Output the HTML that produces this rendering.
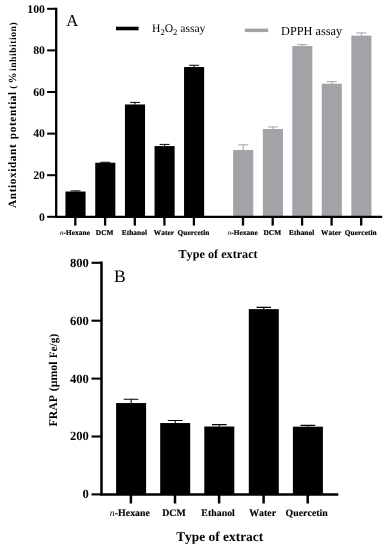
<!DOCTYPE html><html><head><meta charset="utf-8"><title>Antioxidant assays</title>
<style>html,body{margin:0;padding:0;background:#fff}svg{display:block}text{font-kerning:none;text-rendering:geometricPrecision;font-family:"Liberation Serif","DejaVu Serif",serif;fill:#000}.b{font-weight:bold}</style></head><body>
<svg width="391" height="550" viewBox="0 0 391 550">
<rect width="391" height="550" fill="#fff"/>
<rect x="65.45" y="191.53" width="20.1" height="25.27" fill="#000"/>
<path d="M75.5 191.53V190.9M70.5 190.9H80.5" stroke="#000" stroke-width="1" fill="none"/>
<rect x="95.25" y="162.72" width="20.1" height="54.08" fill="#000"/>
<path d="M105.3 162.72V162.26M100.3 162.26H110.3" stroke="#000" stroke-width="1" fill="none"/>
<rect x="124.95" y="104.48" width="20.1" height="112.32" fill="#000"/>
<path d="M135 104.48V102.4M130 102.4H140" stroke="#000" stroke-width="1" fill="none"/>
<rect x="154.55" y="146.08" width="20.1" height="70.72" fill="#000"/>
<path d="M164.6 146.08V144.42M159.6 144.42H169.6" stroke="#000" stroke-width="1" fill="none"/>
<rect x="184.05" y="67.04" width="20.1" height="149.76" fill="#000"/>
<path d="M194.1 67.04V65.27M189.1 65.27H199.1" stroke="#000" stroke-width="1" fill="none"/>
<rect x="233.15" y="150.03" width="20.1" height="66.77" fill="#a4a2a7"/>
<path d="M243.2 150.03V144.83M238.2 144.83H248.2" stroke="#a4a2a7" stroke-width="1" fill="none"/>
<rect x="262.85" y="129.02" width="20.1" height="87.78" fill="#a4a2a7"/>
<path d="M272.9 129.02V126.94M267.9 126.94H277.9" stroke="#a4a2a7" stroke-width="1" fill="none"/>
<rect x="292.25" y="46.03" width="20.1" height="170.77" fill="#a4a2a7"/>
<path d="M302.3 46.03V44.58M297.3 44.58H307.3" stroke="#a4a2a7" stroke-width="1" fill="none"/>
<rect x="321.75" y="83.68" width="20.1" height="133.12" fill="#a4a2a7"/>
<path d="M331.8 83.68V81.6M326.8 81.6H336.8" stroke="#a4a2a7" stroke-width="1" fill="none"/>
<rect x="351.35" y="35.63" width="20.1" height="181.17" fill="#a4a2a7"/>
<path d="M361.4 35.63V32.93M356.4 32.93H366.4" stroke="#a4a2a7" stroke-width="1" fill="none"/>
<path d="M56.2 7.65V217.95M55.05 216.8H382.2" stroke="#000" stroke-width="2.3" fill="none"/>
<path d="M47.1 216.8H56.2" stroke="#000" stroke-width="2"/>
<text class="b" x="45" y="220.5" font-size="11.8" text-anchor="end">0</text>
<path d="M47.1 175.2H56.2" stroke="#000" stroke-width="2"/>
<text class="b" x="45" y="178.9" font-size="11.8" text-anchor="end">20</text>
<path d="M47.1 133.6H56.2" stroke="#000" stroke-width="2"/>
<text class="b" x="45" y="137.3" font-size="11.8" text-anchor="end">40</text>
<path d="M47.1 92H56.2" stroke="#000" stroke-width="2"/>
<text class="b" x="45" y="95.7" font-size="11.8" text-anchor="end">60</text>
<path d="M47.1 50.4H56.2" stroke="#000" stroke-width="2"/>
<text class="b" x="45" y="54.1" font-size="11.8" text-anchor="end">80</text>
<path d="M47.1 8.8H56.2" stroke="#000" stroke-width="2"/>
<text class="b" x="45" y="12.5" font-size="11.8" text-anchor="end">100</text>
<path d="M75.3 216.8V225.6" stroke="#000" stroke-width="2.3"/>
<text class="b" x="74.9" y="235.2" font-size="7.3" letter-spacing="0.08" stroke="#000" stroke-width="0.2" text-anchor="middle"><tspan font-style="italic" font-weight="normal" stroke="none">n</tspan>-Hexane</text>
<path d="M105.1 216.8V225.6" stroke="#000" stroke-width="2.3"/>
<text class="b" x="104.7" y="235.2" font-size="7.3" letter-spacing="0.08" stroke="#000" stroke-width="0.2" text-anchor="middle">DCM</text>
<path d="M134.8 216.8V225.6" stroke="#000" stroke-width="2.3"/>
<text class="b" x="134.4" y="235.2" font-size="7.3" letter-spacing="0.08" stroke="#000" stroke-width="0.2" text-anchor="middle">Ethanol</text>
<path d="M164.4 216.8V225.6" stroke="#000" stroke-width="2.3"/>
<text class="b" x="164" y="235.2" font-size="7.3" letter-spacing="0.08" stroke="#000" stroke-width="0.2" text-anchor="middle">Water</text>
<path d="M193.9 216.8V225.6" stroke="#000" stroke-width="2.3"/>
<text class="b" x="193.5" y="235.2" font-size="7.3" letter-spacing="0.08" stroke="#000" stroke-width="0.2" text-anchor="middle">Quercetin</text>
<path d="M243 216.8V225.6" stroke="#000" stroke-width="2.3"/>
<text class="b" x="242.6" y="235.2" font-size="7.3" letter-spacing="0.08" stroke="#000" stroke-width="0.2" text-anchor="middle"><tspan font-style="italic" font-weight="normal" stroke="none">n</tspan>-Hexane</text>
<path d="M272.7 216.8V225.6" stroke="#000" stroke-width="2.3"/>
<text class="b" x="272.3" y="235.2" font-size="7.3" letter-spacing="0.08" stroke="#000" stroke-width="0.2" text-anchor="middle">DCM</text>
<path d="M302.1 216.8V225.6" stroke="#000" stroke-width="2.3"/>
<text class="b" x="301.7" y="235.2" font-size="7.3" letter-spacing="0.08" stroke="#000" stroke-width="0.2" text-anchor="middle">Ethanol</text>
<path d="M331.6 216.8V225.6" stroke="#000" stroke-width="2.3"/>
<text class="b" x="331.2" y="235.2" font-size="7.3" letter-spacing="0.08" stroke="#000" stroke-width="0.2" text-anchor="middle">Water</text>
<path d="M361.2 216.8V225.6" stroke="#000" stroke-width="2.3"/>
<text class="b" x="360.8" y="235.2" font-size="7.3" letter-spacing="0.08" stroke="#000" stroke-width="0.2" text-anchor="middle">Quercetin</text>
<text class="b" x="218.1" y="258.1" font-size="12.2" text-anchor="middle">Type of extract</text>
<text class="b" transform="translate(15.9 208) rotate(-90)" font-size="11.3" letter-spacing="0.6" word-spacing="1">Antioxidant potential</text>
<text class="b" transform="translate(15.9 88.7) rotate(-90)" font-size="9.6" letter-spacing="0.55" word-spacing="0.6">(<tspan dx="1.35" font-size="11">%</tspan><tspan dx="-2.55"> inhibition)</tspan></text>
<text x="66.3" y="26.2" font-size="16.6">A</text>
<rect x="116" y="26.7" width="22.6" height="3.6" fill="#000"/>
<text x="152" y="32.4" font-size="11.6">H<tspan font-size="8.6" dy="2.7">2</tspan><tspan dy="-2.7">O</tspan><tspan font-size="8.6" dy="2.7">2</tspan><tspan dy="-2.7"> assay</tspan></text>
<rect x="244.8" y="28.6" width="23.4" height="3.5" fill="#a4a2a7"/>
<text x="281" y="34.8" font-size="12.3">DPPH assay</text>
<rect x="116.1" y="403.06" width="30" height="91.34" fill="#000"/>
<path d="M131.1 403.06V399.3M123.8 399.3H138.4" stroke="#000" stroke-width="1.05" fill="none"/>
<rect x="160.2" y="423.04" width="30" height="71.36" fill="#000"/>
<path d="M175.2 423.04V420.43M167.9 420.43H182.5" stroke="#000" stroke-width="1.05" fill="none"/>
<rect x="204.3" y="426.51" width="30" height="67.89" fill="#000"/>
<path d="M219.3 426.51V424.63M212 424.63H226.6" stroke="#000" stroke-width="1.05" fill="none"/>
<rect x="248.8" y="309.12" width="30" height="185.28" fill="#000"/>
<path d="M263.8 309.12V307.38M256.5 307.38H271.1" stroke="#000" stroke-width="1.05" fill="none"/>
<rect x="292.9" y="426.66" width="30" height="67.74" fill="#000"/>
<path d="M307.9 426.66V425.35M300.6 425.35H315.2" stroke="#000" stroke-width="1.05" fill="none"/>
<path d="M101.5 261.55V495.65M100.25 494.4H338.3" stroke="#000" stroke-width="2.5" fill="none"/>
<path d="M91.5 494.4H101.5" stroke="#000" stroke-width="2.1"/>
<text class="b" x="88.8" y="498.3" font-size="12.6" text-anchor="end">0</text>
<path d="M91.5 436.5H101.5" stroke="#000" stroke-width="2.1"/>
<text class="b" x="88.8" y="440.4" font-size="12.6" text-anchor="end">200</text>
<path d="M91.5 378.6H101.5" stroke="#000" stroke-width="2.1"/>
<text class="b" x="88.8" y="382.5" font-size="12.6" text-anchor="end">400</text>
<path d="M91.5 320.7H101.5" stroke="#000" stroke-width="2.1"/>
<text class="b" x="88.8" y="324.6" font-size="12.6" text-anchor="end">600</text>
<path d="M91.5 262.8H101.5" stroke="#000" stroke-width="2.1"/>
<text class="b" x="88.8" y="266.7" font-size="12.6" text-anchor="end">800</text>
<path d="M130.9 494.4V503.5" stroke="#000" stroke-width="2.5"/>
<text class="b" x="129.9" y="515.6" font-size="9.8" letter-spacing="0.05" stroke="#000" stroke-width="0.15" text-anchor="middle"><tspan font-style="italic" font-weight="normal" stroke="none">n</tspan>-Hexane</text>
<path d="M175 494.4V503.5" stroke="#000" stroke-width="2.5"/>
<text class="b" x="174" y="515.6" font-size="9.8" letter-spacing="0.05" stroke="#000" stroke-width="0.15" text-anchor="middle">DCM</text>
<path d="M219.1 494.4V503.5" stroke="#000" stroke-width="2.5"/>
<text class="b" x="218.1" y="515.6" font-size="9.8" letter-spacing="0.05" stroke="#000" stroke-width="0.15" text-anchor="middle">Ethanol</text>
<path d="M263.6 494.4V503.5" stroke="#000" stroke-width="2.5"/>
<text class="b" x="262.6" y="515.6" font-size="9.8" letter-spacing="0.05" stroke="#000" stroke-width="0.15" text-anchor="middle">Water</text>
<path d="M307.7 494.4V503.5" stroke="#000" stroke-width="2.5"/>
<text class="b" x="306.7" y="515.6" font-size="9.8" letter-spacing="0.05" stroke="#000" stroke-width="0.15" text-anchor="middle">Quercetin</text>
<text class="b" x="219.7" y="541.2" font-size="13.4" text-anchor="middle">Type of extract</text>
<text class="b" transform="translate(56.7 426.5) rotate(-90)" font-size="11.8">FRAP</text>
<text class="b" transform="translate(56.7 391.2) rotate(-90)" font-size="11.8">(µmol</text>
<text class="b" transform="translate(56.7 358.3) rotate(-90)" font-size="11.3">Fe/g)</text>
<text x="114" y="282.3" font-size="17.5">B</text>
</svg></body></html>
